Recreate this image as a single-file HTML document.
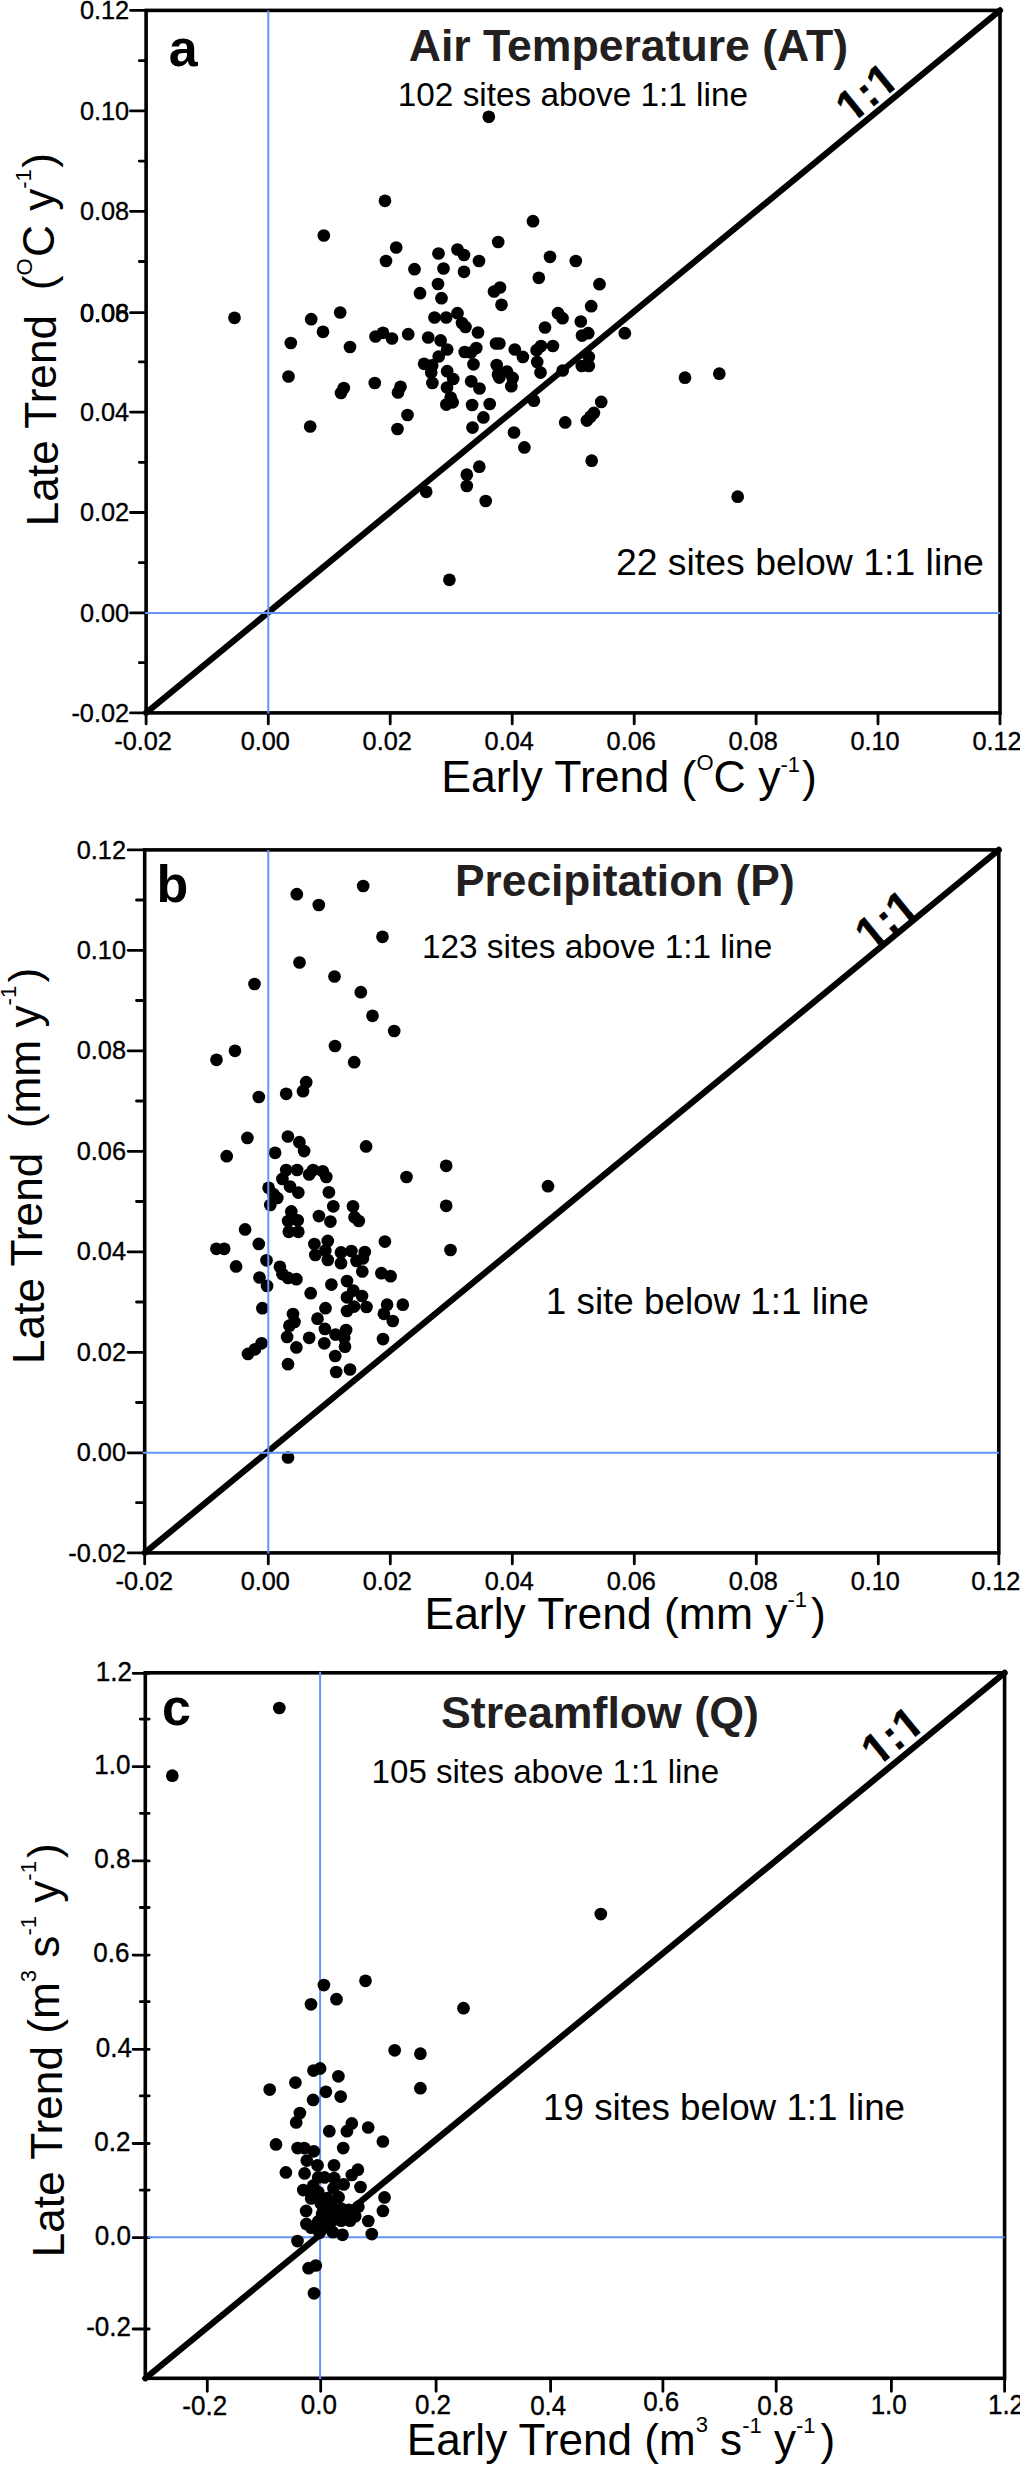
<!DOCTYPE html>
<html lang="en"><head><meta charset="utf-8"><title>Early vs Late Trend</title>
<style>
html,body{margin:0;padding:0;background:#fff}
svg{display:block}
text{white-space:pre;font-family:"Liberation Sans",Arial,Helvetica,sans-serif;fill:#000}
.tk{font-size:25.3px;stroke:#000;stroke-width:.35}
.tkc{font-size:26px;stroke:#000;stroke-width:.35}
.ax{font-size:44.6px}
.ti{font-size:44.6px;font-weight:bold;fill:#231f20}
.nt{font-size:33.35px}
.pl{font-size:52px;font-weight:bold}
.oo{font-weight:bold;stroke:#000;stroke-width:0.5}
.fr{fill:none;stroke:#000;stroke-width:3.6}
.tick{stroke:#000;stroke-width:2.8;fill:none;stroke-linecap:round}
.bl{stroke:#6495f8;stroke-width:2;fill:none}
.d{stroke:#000;stroke-width:6.2;stroke-linecap:round}
</style></head><body>
<svg width="1020" height="2465" viewBox="0 0 1020 2465">
<rect width="1020" height="2465" fill="#fff"/>

<g id="pa">
<line class="d" x1="146.1" y1="712.9" x2="1000" y2="10.4"/>
<rect class="fr" x="146.1" y="10.4" width="853.9" height="702.5"/>
<path class="tick" d="M130.5 712.9H146.1M139.29999999999998 662.7H146.1M130.5 612.9H146.1M139.29999999999998 562.7H146.1M130.5 512.5H146.1M139.29999999999998 462.3H146.1M130.5 412.1H146.1M139.29999999999998 361.9H146.1M130.5 312.7H146.1M139.29999999999998 261.5H146.1M130.5 211.3H146.1M139.29999999999998 161.1H146.1M130.5 110.9H146.1M139.29999999999998 60.7H146.1M130.5 10.4H146.1M146.1 712.9V723.9M268.3 712.9V723.9M390.2 712.9V723.9M512.2 712.9V723.9M634.2 712.9V723.9M756.1 712.9V723.9M878.0 712.9V723.9M1000.0 712.9V723.9"/>
<path class="bl" d="M268.3 10.4V713.5M145.1 612.9H1000"/>
<text class="tk" transform="translate(129.1,721.7) scale(1,1.04)" text-anchor="end">-0.02</text>
<text class="tk" transform="translate(129.1,621.7) scale(1,1.04)" text-anchor="end">0.00</text>
<text class="tk" transform="translate(129.1,521.3) scale(1,1.04)" text-anchor="end">0.02</text>
<text class="tk" transform="translate(129.1,420.9) scale(1,1.04)" text-anchor="end">0.04</text>
<text class="tk" transform="translate(129.1,321.5) scale(1,1.04)" text-anchor="end">0.06</text>
<text class="tk" transform="translate(129.1,321.5) scale(1,1.04)" text-anchor="end">0.08</text>
<text class="tk" transform="translate(129.1,220.1) scale(1,1.04)" text-anchor="end">0.08</text>
<text class="tk" transform="translate(129.1,119.7) scale(1,1.04)" text-anchor="end">0.10</text>
<text class="tk" transform="translate(129.1,19.2) scale(1,1.04)" text-anchor="end">0.12</text>
<text class="tk" transform="translate(143.1,750.2) scale(1,1.04)" text-anchor="middle">-0.02</text>
<text class="tk" transform="translate(265.3,750.2) scale(1,1.04)" text-anchor="middle">0.00</text>
<text class="tk" transform="translate(387.2,750.2) scale(1,1.04)" text-anchor="middle">0.02</text>
<text class="tk" transform="translate(509.2,750.2) scale(1,1.04)" text-anchor="middle">0.04</text>
<text class="tk" transform="translate(631.2,750.2) scale(1,1.04)" text-anchor="middle">0.06</text>
<text class="tk" transform="translate(753.1,750.2) scale(1,1.04)" text-anchor="middle">0.08</text>
<text class="tk" transform="translate(875.0,750.2) scale(1,1.04)" text-anchor="middle">0.10</text>
<text class="tk" transform="translate(997.0,750.2) scale(1,1.04)" text-anchor="middle">0.12</text>
<g><circle cx="234.5" cy="317.8" r="6.35"/><circle cx="385.0" cy="200.8" r="6.35"/><circle cx="323.8" cy="235.5" r="6.35"/><circle cx="396.2" cy="247.5" r="6.35"/><circle cx="386.0" cy="261.0" r="6.35"/><circle cx="414.5" cy="269.2" r="6.35"/><circle cx="438.5" cy="253.5" r="6.35"/><circle cx="457.5" cy="249.5" r="6.35"/><circle cx="464.0" cy="255.0" r="6.35"/><circle cx="443.5" cy="268.5" r="6.35"/><circle cx="464.0" cy="271.8" r="6.35"/><circle cx="438.0" cy="284.0" r="6.35"/><circle cx="420.0" cy="293.2" r="6.35"/><circle cx="441.5" cy="298.2" r="6.35"/><circle cx="340.2" cy="312.5" r="6.35"/><circle cx="311.2" cy="319.2" r="6.35"/><circle cx="323.0" cy="331.8" r="6.35"/><circle cx="434.5" cy="317.5" r="6.35"/><circle cx="446.2" cy="317.5" r="6.35"/><circle cx="457.5" cy="313.2" r="6.35"/><circle cx="462.0" cy="323.0" r="6.35"/><circle cx="465.5" cy="327.0" r="6.35"/><circle cx="290.8" cy="343.0" r="6.35"/><circle cx="375.5" cy="336.5" r="6.35"/><circle cx="383.0" cy="332.8" r="6.35"/><circle cx="392.0" cy="338.5" r="6.35"/><circle cx="408.2" cy="334.2" r="6.35"/><circle cx="428.2" cy="337.5" r="6.35"/><circle cx="440.6" cy="340.4" r="6.35"/><circle cx="350.0" cy="347.0" r="6.35"/><circle cx="488.8" cy="116.8" r="6.35"/><circle cx="533.0" cy="221.2" r="6.35"/><circle cx="498.2" cy="242.0" r="6.35"/><circle cx="479.0" cy="261.0" r="6.35"/><circle cx="550.0" cy="256.8" r="6.35"/><circle cx="575.8" cy="261.0" r="6.35"/><circle cx="538.8" cy="277.8" r="6.35"/><circle cx="599.5" cy="284.2" r="6.35"/><circle cx="500.0" cy="287.5" r="6.35"/><circle cx="494.0" cy="291.5" r="6.35"/><circle cx="501.5" cy="304.8" r="6.35"/><circle cx="591.2" cy="306.2" r="6.35"/><circle cx="558.0" cy="313.2" r="6.35"/><circle cx="562.5" cy="318.2" r="6.35"/><circle cx="580.8" cy="321.5" r="6.35"/><circle cx="478.0" cy="332.5" r="6.35"/><circle cx="545.0" cy="327.5" r="6.35"/><circle cx="588.2" cy="333.2" r="6.35"/><circle cx="582.0" cy="335.6" r="6.35"/><circle cx="624.8" cy="333.2" r="6.35"/><circle cx="288.5" cy="376.5" r="6.35"/><circle cx="343.8" cy="388.0" r="6.35"/><circle cx="341.0" cy="393.0" r="6.35"/><circle cx="374.8" cy="383.0" r="6.35"/><circle cx="400.5" cy="386.8" r="6.35"/><circle cx="398.0" cy="392.5" r="6.35"/><circle cx="407.5" cy="415.0" r="6.35"/><circle cx="397.5" cy="429.0" r="6.35"/><circle cx="310.2" cy="426.5" r="6.35"/><circle cx="426.2" cy="491.8" r="6.35"/><circle cx="466.8" cy="474.7" r="6.35"/><circle cx="466.8" cy="486.0" r="6.35"/><circle cx="449.4" cy="579.8" r="6.35"/><circle cx="447.2" cy="349.5" r="6.35"/><circle cx="438.7" cy="356.5" r="6.35"/><circle cx="424.1" cy="363.8" r="6.35"/><circle cx="432.2" cy="365.4" r="6.35"/><circle cx="431.2" cy="372.6" r="6.35"/><circle cx="432.4" cy="383.0" r="6.35"/><circle cx="447.2" cy="371.2" r="6.35"/><circle cx="453.2" cy="379.0" r="6.35"/><circle cx="447.0" cy="387.6" r="6.35"/><circle cx="450.7" cy="397.6" r="6.35"/><circle cx="446.3" cy="404.6" r="6.35"/><circle cx="452.6" cy="402.3" r="6.35"/><circle cx="464.7" cy="352.0" r="6.35"/><circle cx="476.3" cy="348.0" r="6.35"/><circle cx="471.0" cy="352.6" r="6.35"/><circle cx="473.5" cy="364.3" r="6.35"/><circle cx="471.2" cy="381.3" r="6.35"/><circle cx="479.5" cy="388.5" r="6.35"/><circle cx="472.1" cy="405.0" r="6.35"/><circle cx="489.7" cy="404.0" r="6.35"/><circle cx="483.4" cy="417.4" r="6.35"/><circle cx="472.5" cy="427.6" r="6.35"/><circle cx="496.0" cy="343.5" r="6.35"/><circle cx="499.4" cy="343.5" r="6.35"/><circle cx="514.8" cy="349.5" r="6.35"/><circle cx="522.9" cy="356.9" r="6.35"/><circle cx="496.7" cy="365.1" r="6.35"/><circle cx="498.0" cy="374.5" r="6.35"/><circle cx="506.9" cy="371.5" r="6.35"/><circle cx="499.3" cy="377.6" r="6.35"/><circle cx="512.6" cy="377.9" r="6.35"/><circle cx="511.3" cy="386.2" r="6.35"/><circle cx="541.0" cy="346.0" r="6.35"/><circle cx="536.6" cy="350.2" r="6.35"/><circle cx="552.9" cy="346.0" r="6.35"/><circle cx="537.2" cy="362.0" r="6.35"/><circle cx="540.5" cy="372.6" r="6.35"/><circle cx="562.7" cy="370.5" r="6.35"/><circle cx="588.8" cy="356.9" r="6.35"/><circle cx="581.8" cy="366.0" r="6.35"/><circle cx="588.8" cy="366.0" r="6.35"/><circle cx="533.9" cy="400.7" r="6.35"/><circle cx="601.2" cy="401.9" r="6.35"/><circle cx="593.9" cy="412.9" r="6.35"/><circle cx="586.9" cy="420.6" r="6.35"/><circle cx="590.4" cy="416.8" r="6.35"/><circle cx="565.2" cy="422.4" r="6.35"/><circle cx="514.0" cy="432.5" r="6.35"/><circle cx="524.4" cy="447.4" r="6.35"/><circle cx="685.0" cy="377.7" r="6.35"/><circle cx="719.3" cy="373.7" r="6.35"/><circle cx="737.7" cy="496.7" r="6.35"/><circle cx="591.7" cy="460.7" r="6.35"/><circle cx="479.3" cy="466.7" r="6.35"/><circle cx="485.7" cy="501.0" r="6.35"/></g>
<text class="pl" x="168.7" y="66">a</text>
<text class="ti" x="408.7" y="61">Air Temperature (AT)</text>
<text class="nt" x="397.8" y="105.8">102 sites above 1:1 line</text>
<text class="nt" style="font-size:37.4px" x="615.9" y="575">22 sites below 1:1 line</text>
<g transform="translate(861.8,115.9) rotate(-39.2)"><clipPath id="oc1"><path d="M-44.30 -88.60H132.90V-5.42H-44.30ZM-3.44 -6.42H3.44V3H-3.44ZM35.94 -6.42H42.82V3H35.94ZM11.25 -6.42H26.00V3H11.25Z"/></clipPath><text class="oo" clip-path="url(#oc1)" x="-13.38" y="0" font-size="44.3">1:1</text></g>
<text class="ax" x="441.2" y="792">Early Trend (<tspan dy="-22" font-size="22">O</tspan><tspan dy="22" dx="0">C y</tspan><tspan dy="-20.5" font-size="22">-1</tspan><tspan dy="20.5" dx="2">)</tspan></text>
<text class="ay" font-size="44.2" transform="translate(57.9,526.2) rotate(-90)">Late<tspan dy="-1.9"> Trend</tspan><tspan dy="-2">  (<tspan dy="-21.6" font-size="22">O</tspan><tspan dy="21.6" dx="1.5">C </tspan><tspan dx="2">y</tspan><tspan dy="-23.5" font-size="22">-1</tspan><tspan dy="23.5" dx="1.5">)</tspan></tspan></text>
</g>
<g id="pb">
<line class="d" x1="144.7" y1="1552.9" x2="998.8" y2="849.9"/>
<g><circle cx="296.8" cy="894.2" r="6.35"/><circle cx="318.8" cy="905.0" r="6.35"/><circle cx="363.2" cy="886.0" r="6.35"/><circle cx="382.5" cy="936.8" r="6.35"/><circle cx="299.5" cy="962.5" r="6.35"/><circle cx="334.5" cy="976.5" r="6.35"/><circle cx="254.5" cy="984.0" r="6.35"/><circle cx="360.8" cy="992.2" r="6.35"/><circle cx="372.5" cy="1015.8" r="6.35"/><circle cx="394.2" cy="1031.0" r="6.35"/><circle cx="335.0" cy="1046.0" r="6.35"/><circle cx="354.2" cy="1062.2" r="6.35"/><circle cx="235.0" cy="1050.8" r="6.35"/><circle cx="216.5" cy="1059.8" r="6.35"/><circle cx="306.2" cy="1082.2" r="6.35"/><circle cx="303.0" cy="1091.2" r="6.35"/><circle cx="286.2" cy="1093.8" r="6.35"/><circle cx="258.8" cy="1097.0" r="6.35"/><circle cx="247.4" cy="1137.9" r="6.35"/><circle cx="226.7" cy="1156.2" r="6.35"/><circle cx="287.9" cy="1136.5" r="6.35"/><circle cx="299.4" cy="1142.2" r="6.35"/><circle cx="304.1" cy="1151.1" r="6.35"/><circle cx="275.1" cy="1152.8" r="6.35"/><circle cx="286.2" cy="1170.0" r="6.35"/><circle cx="297.1" cy="1170.0" r="6.35"/><circle cx="282.4" cy="1178.9" r="6.35"/><circle cx="290.0" cy="1186.6" r="6.35"/><circle cx="298.3" cy="1192.6" r="6.35"/><circle cx="309.2" cy="1174.5" r="6.35"/><circle cx="313.1" cy="1170.0" r="6.35"/><circle cx="322.7" cy="1171.3" r="6.35"/><circle cx="268.6" cy="1187.8" r="6.35"/><circle cx="273.5" cy="1194.2" r="6.35"/><circle cx="277.3" cy="1198.0" r="6.35"/><circle cx="270.3" cy="1205.0" r="6.35"/><circle cx="291.3" cy="1211.4" r="6.35"/><circle cx="288.1" cy="1221.0" r="6.35"/><circle cx="297.7" cy="1220.3" r="6.35"/><circle cx="288.8" cy="1231.8" r="6.35"/><circle cx="298.3" cy="1231.8" r="6.35"/><circle cx="318.9" cy="1216.1" r="6.35"/><circle cx="245.1" cy="1229.4" r="6.35"/><circle cx="366.1" cy="1146.4" r="6.35"/><circle cx="406.5" cy="1177.0" r="6.35"/><circle cx="326.3" cy="1177.0" r="6.35"/><circle cx="328.9" cy="1192.3" r="6.35"/><circle cx="333.3" cy="1206.3" r="6.35"/><circle cx="330.4" cy="1221.6" r="6.35"/><circle cx="353.0" cy="1206.3" r="6.35"/><circle cx="354.6" cy="1217.2" r="6.35"/><circle cx="358.8" cy="1221.0" r="6.35"/><circle cx="258.8" cy="1243.9" r="6.35"/><circle cx="216.4" cy="1248.8" r="6.35"/><circle cx="224.2" cy="1248.8" r="6.35"/><circle cx="236.1" cy="1266.4" r="6.35"/><circle cx="266.5" cy="1260.3" r="6.35"/><circle cx="259.5" cy="1277.5" r="6.35"/><circle cx="267.1" cy="1285.9" r="6.35"/><circle cx="279.9" cy="1266.8" r="6.35"/><circle cx="282.4" cy="1274.1" r="6.35"/><circle cx="288.1" cy="1277.9" r="6.35"/><circle cx="296.4" cy="1279.2" r="6.35"/><circle cx="314.4" cy="1244.1" r="6.35"/><circle cx="315.3" cy="1255.0" r="6.35"/><circle cx="310.7" cy="1293.2" r="6.35"/><circle cx="262.4" cy="1308.2" r="6.35"/><circle cx="293.0" cy="1314.0" r="6.35"/><circle cx="294.5" cy="1321.9" r="6.35"/><circle cx="289.4" cy="1325.7" r="6.35"/><circle cx="287.1" cy="1336.9" r="6.35"/><circle cx="309.2" cy="1337.8" r="6.35"/><circle cx="296.4" cy="1347.4" r="6.35"/><circle cx="317.5" cy="1318.7" r="6.35"/><circle cx="261.6" cy="1343.3" r="6.35"/><circle cx="255.0" cy="1349.3" r="6.35"/><circle cx="248.0" cy="1353.9" r="6.35"/><circle cx="384.9" cy="1241.6" r="6.35"/><circle cx="327.8" cy="1240.9" r="6.35"/><circle cx="325.3" cy="1250.5" r="6.35"/><circle cx="327.8" cy="1260.0" r="6.35"/><circle cx="341.0" cy="1252.4" r="6.35"/><circle cx="351.4" cy="1251.1" r="6.35"/><circle cx="341.0" cy="1263.2" r="6.35"/><circle cx="364.8" cy="1252.0" r="6.35"/><circle cx="362.9" cy="1258.4" r="6.35"/><circle cx="356.5" cy="1260.9" r="6.35"/><circle cx="362.3" cy="1271.5" r="6.35"/><circle cx="381.4" cy="1273.2" r="6.35"/><circle cx="390.6" cy="1276.2" r="6.35"/><circle cx="331.4" cy="1284.6" r="6.35"/><circle cx="347.0" cy="1281.1" r="6.35"/><circle cx="353.3" cy="1290.6" r="6.35"/><circle cx="347.0" cy="1297.3" r="6.35"/><circle cx="362.0" cy="1296.0" r="6.35"/><circle cx="354.0" cy="1306.6" r="6.35"/><circle cx="347.0" cy="1311.0" r="6.35"/><circle cx="366.5" cy="1307.0" r="6.35"/><circle cx="325.5" cy="1308.2" r="6.35"/><circle cx="387.1" cy="1304.7" r="6.35"/><circle cx="402.8" cy="1304.7" r="6.35"/><circle cx="383.9" cy="1313.8" r="6.35"/><circle cx="392.8" cy="1321.0" r="6.35"/><circle cx="324.9" cy="1328.9" r="6.35"/><circle cx="335.5" cy="1334.6" r="6.35"/><circle cx="346.1" cy="1330.1" r="6.35"/><circle cx="344.2" cy="1337.8" r="6.35"/><circle cx="345.0" cy="1346.7" r="6.35"/><circle cx="324.3" cy="1343.3" r="6.35"/><circle cx="383.0" cy="1339.1" r="6.35"/><circle cx="335.2" cy="1356.0" r="6.35"/><circle cx="288.0" cy="1364.2" r="6.35"/><circle cx="336.2" cy="1372.0" r="6.35"/><circle cx="350.0" cy="1369.5" r="6.35"/><circle cx="288.0" cy="1457.5" r="6.35"/><circle cx="446.2" cy="1165.8" r="6.35"/><circle cx="446.2" cy="1205.8" r="6.35"/><circle cx="450.5" cy="1250.0" r="6.35"/><circle cx="548.0" cy="1186.2" r="6.35"/></g>
<rect class="fr" x="144.7" y="849.9" width="854.0999999999999" height="703.0000000000001"/>
<path class="tick" d="M128.1 1552.9H144.7M136.5 1502.7H144.7M128.1 1452.8H144.7M136.5 1402.5H144.7M128.1 1352.3H144.7M136.5 1302.0H144.7M128.1 1251.8H144.7M136.5 1201.5H144.7M128.1 1151.3H144.7M136.5 1101.0H144.7M128.1 1050.8H144.7M136.5 1000.5H144.7M128.1 950.3H144.7M136.5 900.0H144.7M128.1 849.9H144.7M144.7 1552.9V1563.9M268.3 1552.9V1563.9M390.3 1552.9V1563.9M512.3 1552.9V1563.9M634.3 1552.9V1563.9M756.3 1552.9V1563.9M878.3 1552.9V1563.9M998.8 1552.9V1563.9"/>
<path class="bl" d="M268.3 849.9V1553.5M142.7 1452.8H998.8"/>
<text class="tk" transform="translate(126.0,1561.5) scale(1,1.04)" text-anchor="end">-0.02</text>
<text class="tk" transform="translate(126.0,1461.4) scale(1,1.04)" text-anchor="end">0.00</text>
<text class="tk" transform="translate(126.0,1360.9) scale(1,1.04)" text-anchor="end">0.02</text>
<text class="tk" transform="translate(126.0,1260.4) scale(1,1.04)" text-anchor="end">0.04</text>
<text class="tk" transform="translate(126.0,1159.9) scale(1,1.04)" text-anchor="end">0.06</text>
<text class="tk" transform="translate(126.0,1059.4) scale(1,1.04)" text-anchor="end">0.08</text>
<text class="tk" transform="translate(126.0,958.9) scale(1,1.04)" text-anchor="end">0.10</text>
<text class="tk" transform="translate(126.0,858.5) scale(1,1.04)" text-anchor="end">0.12</text>
<text class="tk" transform="translate(144.3,1590.2) scale(1,1.04)" text-anchor="middle">-0.02</text>
<text class="tk" transform="translate(265.3,1590.2) scale(1,1.04)" text-anchor="middle">0.00</text>
<text class="tk" transform="translate(387.3,1590.2) scale(1,1.04)" text-anchor="middle">0.02</text>
<text class="tk" transform="translate(509.3,1590.2) scale(1,1.04)" text-anchor="middle">0.04</text>
<text class="tk" transform="translate(631.3,1590.2) scale(1,1.04)" text-anchor="middle">0.06</text>
<text class="tk" transform="translate(753.3,1590.2) scale(1,1.04)" text-anchor="middle">0.08</text>
<text class="tk" transform="translate(875.3,1590.2) scale(1,1.04)" text-anchor="middle">0.10</text>
<text class="tk" transform="translate(995.8,1590.2) scale(1,1.04)" text-anchor="middle">0.12</text>
<text class="pl" x="156.6" y="902">b</text>
<text class="ti" style="font-size:44.3px" x="455" y="896.1">Precipitation (P)</text>
<text class="nt" x="422" y="957.6">123 sites above 1:1 line</text>
<text class="nt" style="font-size:36.8px" x="545.8" y="1313.7">1 site below 1:1 line</text>
<g transform="translate(881.2,942.9) rotate(-39.2)"><clipPath id="oc2"><path d="M-44.30 -88.60H132.90V-5.42H-44.30ZM-3.44 -6.42H3.44V3H-3.44ZM35.94 -6.42H42.82V3H35.94ZM11.25 -6.42H26.00V3H11.25Z"/></clipPath><text class="oo" clip-path="url(#oc2)" x="-13.38" y="0" font-size="44.3">1:1</text></g>
<text class="ax" style="font-size:44.45px" x="424.5" y="1629.2">Early Trend (mm y<tspan dy="-22.5" font-size="22">-1</tspan><tspan dy="22.5" dx="4">)</tspan></text>
<text class="ay" font-size="44.2" transform="translate(43.8,1364) rotate(-90)">Late<tspan dy="-1.5"> Trend</tspan><tspan dy="-2.5">  (mm y<tspan dy="-23.5" font-size="22">-1</tspan><tspan dy="23.5" dx="3.5">)</tspan></tspan></text>
</g>
<g id="pc">
<path class="bl" d="M320.1 1672.8V2378.3M145.3 2237.2H1004.6"/>
<line class="d" x1="145.3" y1="2378.3" x2="1004.6" y2="1672.8"/>
<g><circle cx="279.3" cy="1708.0" r="6.35"/><circle cx="172.3" cy="1775.7" r="6.35"/><circle cx="600.8" cy="1914.1" r="6.35"/><circle cx="365.5" cy="1980.8" r="6.35"/><circle cx="323.9" cy="1985.1" r="6.35"/><circle cx="336.5" cy="1999.2" r="6.35"/><circle cx="311.0" cy="2004.3" r="6.35"/><circle cx="463.5" cy="2008.2" r="6.35"/><circle cx="394.7" cy="2050.3" r="6.35"/><circle cx="420.4" cy="2053.7" r="6.35"/><circle cx="420.4" cy="2088.2" r="6.35"/><circle cx="320.1" cy="2068.4" r="6.35"/><circle cx="313.5" cy="2070.6" r="6.35"/><circle cx="338.4" cy="2076.3" r="6.35"/><circle cx="295.4" cy="2082.6" r="6.35"/><circle cx="269.7" cy="2089.6" r="6.35"/><circle cx="325.9" cy="2091.8" r="6.35"/><circle cx="340.7" cy="2096.6" r="6.35"/><circle cx="313.1" cy="2099.9" r="6.35"/><circle cx="299.9" cy="2113.1" r="6.35"/><circle cx="296.2" cy="2122.4" r="6.35"/><circle cx="351.8" cy="2123.4" r="6.35"/><circle cx="346.9" cy="2131.2" r="6.35"/><circle cx="368.2" cy="2127.5" r="6.35"/><circle cx="329.3" cy="2131.2" r="6.35"/><circle cx="382.9" cy="2141.5" r="6.35"/><circle cx="276.0" cy="2144.4" r="6.35"/><circle cx="343.2" cy="2148.1" r="6.35"/><circle cx="297.6" cy="2148.1" r="6.35"/><circle cx="304.3" cy="2148.1" r="6.35"/><circle cx="313.8" cy="2151.3" r="6.35"/><circle cx="306.8" cy="2160.6" r="6.35"/><circle cx="317.5" cy="2165.3" r="6.35"/><circle cx="334.0" cy="2165.3" r="6.35"/><circle cx="285.9" cy="2172.4" r="6.35"/><circle cx="304.6" cy="2173.4" r="6.35"/><circle cx="357.9" cy="2169.7" r="6.35"/><circle cx="351.8" cy="2175.0" r="6.35"/><circle cx="360.5" cy="2187.0" r="6.35"/><circle cx="384.5" cy="2197.4" r="6.35"/><circle cx="382.9" cy="2210.9" r="6.35"/><circle cx="368.3" cy="2221.0" r="6.35"/><circle cx="371.8" cy="2234.1" r="6.35"/><circle cx="342.5" cy="2234.8" r="6.35"/><circle cx="297.5" cy="2241.1" r="6.35"/><circle cx="308.6" cy="2268.2" r="6.35"/><circle cx="315.8" cy="2265.5" r="6.35"/><circle cx="314.0" cy="2293.3" r="6.35"/><circle cx="303.3" cy="2190.1" r="6.35"/><circle cx="306.1" cy="2210.9" r="6.35"/><circle cx="306.4" cy="2223.9" r="6.35"/><circle cx="311.2" cy="2227.7" r="6.35"/><circle cx="319.5" cy="2232.8" r="6.35"/><circle cx="332.9" cy="2232.2" r="6.35"/><circle cx="318.2" cy="2177.4" r="6.35"/><circle cx="324.6" cy="2177.4" r="6.35"/><circle cx="334.2" cy="2178.0" r="6.35"/><circle cx="343.7" cy="2184.4" r="6.35"/><circle cx="313.1" cy="2185.7" r="6.35"/><circle cx="311.2" cy="2198.4" r="6.35"/><circle cx="338.6" cy="2197.2" r="6.35"/><circle cx="333.5" cy="2188.2" r="6.35"/><circle cx="318.2" cy="2192.0" r="6.35"/><circle cx="358.4" cy="2206.7" r="6.35"/><circle cx="355.2" cy="2216.3" r="6.35"/><circle cx="350.1" cy="2220.7" r="6.35"/><circle cx="341.2" cy="2220.7" r="6.35"/><circle cx="348.8" cy="2209.9" r="6.35"/><circle cx="320.8" cy="2203.5" r="6.35"/><circle cx="331.0" cy="2203.5" r="6.35"/><circle cx="322.1" cy="2213.7" r="6.35"/><circle cx="332.3" cy="2213.7" r="6.35"/><circle cx="341.2" cy="2208.6" r="6.35"/><circle cx="318.2" cy="2221.4" r="6.35"/><circle cx="328.4" cy="2222.6" r="6.35"/><circle cx="336.1" cy="2216.3" r="6.35"/><circle cx="327.2" cy="2198.2" r="6.35"/><circle cx="324.0" cy="2209.3" r="6.35"/><circle cx="322.1" cy="2224.6" r="6.35"/><circle cx="311.2" cy="2191.4" r="6.35"/></g>
<rect class="fr" x="145.3" y="1672.8" width="859.3" height="705.5000000000002"/>
<path class="tick" d="M133.10000000000002 2329.0H149.20000000000002M133.10000000000002 2237.7H149.20000000000002M133.10000000000002 2143.5H149.20000000000002M133.10000000000002 2049.3H149.20000000000002M133.10000000000002 1955.1H149.20000000000002M133.10000000000002 1860.9H149.20000000000002M133.10000000000002 1766.7H149.20000000000002M133.10000000000002 1673.3H149.20000000000002M140.3 2190.1H149.20000000000002M140.3 2095.9H149.20000000000002M140.3 2001.7H149.20000000000002M140.3 1907.5H149.20000000000002M140.3 1813.3H149.20000000000002M140.3 1719.1H149.20000000000002M207.3 2378.3V2391.3M320.7 2378.3V2391.3M436.1 2378.3V2391.3M550.6 2378.3V2391.3M662.9 2378.3V2391.3M776.2 2378.3V2391.3M891.4 2378.3V2391.3M1004.6 2378.3V2391.3"/>
<path class="bl" d="M320.1 1671.8V1675.8M320.1 2375.3V2378.9M1001.6 2237.2H1004.6M147.70000000000002 2237.2H152.3"/>
<text class="tkc" transform="translate(131.0,2336.3) scale(1,1.04)" text-anchor="end">-0.2</text>
<text class="tkc" transform="translate(131.0,2245.0) scale(1,1.04)" text-anchor="end">0.0</text>
<text class="tkc" transform="translate(130.4,2150.8) scale(1,1.04)" text-anchor="end">0.2</text>
<text class="tkc" transform="translate(131.9,2056.6) scale(1,1.04)" text-anchor="end">0.4</text>
<text class="tkc" transform="translate(129.5,1962.4) scale(1,1.04)" text-anchor="end">0.6</text>
<text class="tkc" transform="translate(130.4,1868.2) scale(1,1.04)" text-anchor="end">0.8</text>
<text class="tkc" transform="translate(130.4,1774.0) scale(1,1.04)" text-anchor="end">1.0</text>
<text class="tkc" transform="translate(131.9,1680.6) scale(1,1.04)" text-anchor="end">1.2</text>
<text class="tkc" transform="translate(204.7,2415.0) scale(1,1.04)" text-anchor="middle">-0.2</text>
<text class="tkc" transform="translate(318.8,2414.0) scale(1,1.04)" text-anchor="middle">0.0</text>
<text class="tkc" transform="translate(433.0,2413.7) scale(1,1.04)" text-anchor="middle">0.2</text>
<text class="tkc" transform="translate(548.2,2415.3) scale(1,1.04)" text-anchor="middle">0.4</text>
<text class="tkc" transform="translate(661.2,2410.6) scale(1,1.04)" text-anchor="middle">0.6</text>
<text class="tkc" transform="translate(775.3,2414.7) scale(1,1.04)" text-anchor="middle">0.8</text>
<text class="tkc" transform="translate(888.7,2413.7) scale(1,1.04)" text-anchor="middle">1.0</text>
<text class="tkc" transform="translate(1006.0,2413.7) scale(1,1.04)" text-anchor="middle">1.2</text>
<text class="pl" x="162" y="1725.3">c</text>
<text class="ti" style="font-size:44.7px" x="441" y="1728.2">Streamflow (Q)</text>
<text class="nt" style="font-size:33.1px" x="371.6" y="1783.4">105 sites above 1:1 line</text>
<text class="nt" style="font-size:36.8px" x="543" y="2119.5">19 sites below 1:1 line</text>
<g transform="translate(887.3,1759.4) rotate(-39.2)"><clipPath id="oc3"><path d="M-44.30 -88.60H132.90V-5.42H-44.30ZM-3.44 -6.42H3.44V3H-3.44ZM35.94 -6.42H42.82V3H35.94ZM11.25 -6.42H26.00V3H11.25Z"/></clipPath><text class="oo" clip-path="url(#oc3)" x="-13.38" y="0" font-size="44.3">1:1</text></g>
<text class="ax" style="font-size:44.05px" x="406.8" y="2455">Early Trend (m<tspan dy="-23" font-size="22">3</tspan><tspan dy="23" dx="0"> s</tspan><tspan dy="-22" font-size="22">-1</tspan><tspan dy="22" dx="0"> y</tspan><tspan dy="-22" font-size="22">-1</tspan><tspan dy="22" dx="5">)</tspan></text>
<text class="ay" font-size="44.2" transform="translate(64,2257.3) rotate(-90)">Late<tspan dy="-2"> Trend</tspan><tspan dy="-3"> (m<tspan dy="-23" font-size="22">3</tspan><tspan dy="23" dx="0"> s</tspan><tspan dy="-23.5" font-size="22">-1</tspan><tspan dy="23.5" dx="1"> y</tspan><tspan dy="-23.5" font-size="22">-1</tspan><tspan dy="23.5" dx="3">)</tspan></tspan></text>
</g>
</svg></body></html>
